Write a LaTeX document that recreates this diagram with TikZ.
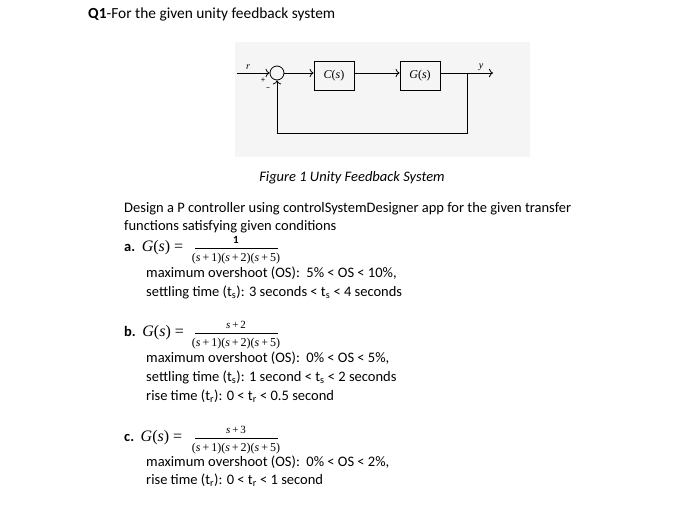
\documentclass[tikz,border=0pt]{standalone}
\usepackage{fontspec}
\setmainfont{Carlito}
\newfontfamily\mf{Liberation Serif}
\newcommand{\mi}[1]{{\mf\itshape #1}}
\newcommand{\den}{{\mf(\mi{s}\,+\,1)(\mi{s}\,+\,2)(\mi{s}\,+\,5)}}
\usetikzlibrary{arrows.meta}
\begin{document}
\begin{tikzpicture}[x=1pt,y=-1pt,
  txt/.style={anchor=base west,inner sep=0pt,font=\fontsize{14.5}{16}\selectfont},
  sm/.style={anchor=base,inner sep=0pt,font=\fontsize{12}{13}\selectfont},
  nm/.style={anchor=base,inner sep=0pt,font=\fontsize{11}{12}\selectfont},
  blk/.style={draw,thick,minimum width=40pt,minimum height=29pt,inner sep=0pt,font=\fontsize{12}{13}\selectfont\mf},
  sig/.style={thick,-{To[length=4pt]}},
  lbl/.style={inner sep=0pt,font=\fontsize{10}{11}\selectfont\mf}]
\useasboundingbox (0,0) rectangle (697,511);
\fill[black!4] (235,42) rectangle (530,157);
\node[txt,font=\fontsize{15.4}{17}\selectfont] (t) at (88,19) {\textbf{Q1}-For the given unity feedback system};
% diagram
\coordinate (in) at (237,73);
\node[draw,thick,circle,minimum size=14pt,inner sep=0pt] (sum) at (277,73) {};
\node[blk] (C) at (334,76) {\mi{C}(\mi{s})};
\node[blk] (G) at (420,76) {\mi{G}(\mi{s})};
\coordinate (br) at (467,73);
\coordinate (out) at (493,73);
\coordinate (fb) at (467,133);
\draw[sig] (in) -- (sum);
\draw[sig] (sum) -- (C.west|-sum);
\draw[sig] (C.east|-sum) -- (G.west|-sum);
\draw[thick] (G.east|-sum) -- (br);
\draw[sig] (br) -- (out);
\draw[sig] (br) -- (fb) -| (sum.south);
\node[lbl] (r) at (248,67) {\mi{r}};
\node[lbl] (y) at (481,67) {\mi{y}};
\node[lbl,font=\fontsize{8}{9}\selectfont] (p) at (263,80) {+};
\node[lbl,font=\fontsize{9}{9}\selectfont] (m) at (268,89) {–};
\node[anchor=base,inner sep=0pt,font=\fontsize{14.5}{16}\selectfont\itshape] (cap) at (352,182) {Figure 1 Unity Feedback System};
% text
\node[txt] (l1) at (124,212) {Design a P controller using controlSystemDesigner app for the given transfer};
\node[txt] (l2) at (124,230) {functions satisfying given conditions};
\node[txt] (a) at (124,251) {\textbf{a.}~~{\mf\fontsize{16}{16}\selectfont\mi{G}(\mi{s}) =}};
\draw (195,248) -- (278,248);
\node[nm] (an) at (236,243) {\textbf{1}};
\node[sm] (ad) at (236,261) {\den};
\node[txt] (a1) at (146,277) {maximum overshoot (OS):~ 5\% < OS < 10\%,};
\node[txt] (a2) at (146,296) {settling time (t\textsubscript{s}): 3 seconds < t\textsubscript{s} < 4 seconds};
\node[txt] (b) at (124,336) {\textbf{b.}~~{\mf\fontsize{16}{16}\selectfont\mi{G}(\mi{s}) =}};
\draw (195,333) -- (278,333);
\node[nm] (bn) at (236,328) {{\mf\mi{s}\,+\,2}};
\node[sm] (bd) at (236,346) {\den};
\node[txt] (b1) at (146,362) {maximum overshoot (OS):~ 0\% < OS < 5\%,};
\node[txt] (b2) at (146,381) {settling time (t\textsubscript{s}): 1 second < t\textsubscript{s} < 2 seconds};
\node[txt] (b3) at (146,400) {rise time (t\textsubscript{r}): 0 < t\textsubscript{r} < 0.5 second};
\node[txt] (c) at (124,441) {\textbf{c.}~~{\mf\fontsize{16}{16}\selectfont\mi{G}(\mi{s}) =}};
\draw (195,438) -- (278,438);
\node[nm] (cn) at (236,433) {{\mf\mi{s}\,+\,3}};
\node[sm] (cd) at (236,451) {\den};
\node[txt] (c1) at (146,466) {maximum overshoot (OS):~ 0\% < OS < 2\%,};
\node[txt] (c2) at (146,484) {rise time (t\textsubscript{r}): 0 < t\textsubscript{r} < 1 second};
\end{tikzpicture}
\end{document}
